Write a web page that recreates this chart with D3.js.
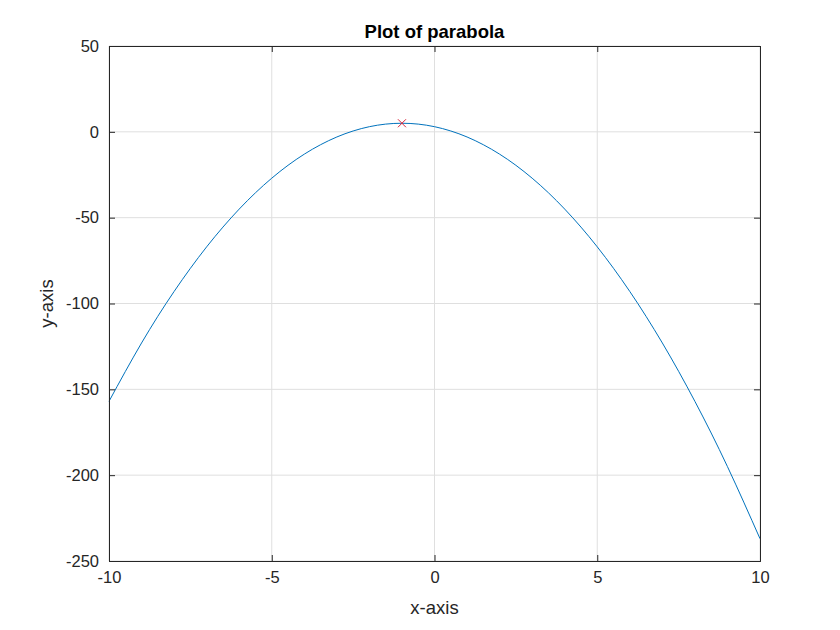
<!DOCTYPE html>
<html><head><meta charset="utf-8">
<script src="https://cdn.jsdelivr.net/npm/d3@7"></script>
<style>body{margin:0;background:#fff}text{font-family:"Liberation Sans",Arial,sans-serif}</style>
</head><body><svg id="c" width="840" height="630"></svg>
<script>
const xValues = [-10,-9,-8,-7,-6,-5,-4,-3,-2,-1,0,1,2,3,4,5,6,7,8,9,10];
const yValues = [-157,-123,-93,-67,-45,-27,-13,-3,3,5,3,-3,-13,-27,-45,-67,-93,-123,-157,-195,-237];
const vertex = [-1, 5];
const xTicks = [-10,-5,0,5,10];
const yTicks = [-250,-200,-150,-100,-50,0,50];

const m = {l:109, r:760, t:46, b:561};
const svg = d3.select('#c');
const x = d3.scaleLinear().domain([-10,10]).range([m.l,m.r]);
const y = d3.scaleLinear().domain([-250,50]).range([m.b,m.t]);
const fmt = d => String(d);

svg.append('rect').attr('width',840).attr('height',630).attr('fill','#fff');
const g = svg.append('g');
// grid
g.selectAll('.gx').data(xTicks).join('line').attr('x1',d=>x(d)).attr('x2',d=>x(d)).attr('y1',m.t).attr('y2',m.b).attr('stroke','#dfdfdf');
g.selectAll('.gy').data(yTicks).join('line').attr('y1',d=>y(d)).attr('y2',d=>y(d)).attr('x1',m.l).attr('x2',m.r).attr('stroke','#dfdfdf');

// curve
const line = d3.line().x((d,i)=>x(xValues[i])).y(d=>y(d)).curve(d3.curveNatural);
g.append('path').datum(yValues).attr('d',line).attr('fill','none').attr('stroke','#0072bd').attr('stroke-width',1);

// vertex marker
const s = 4;
g.append('path').attr('d',`M${x(vertex[0])-s},${y(vertex[1])-s}L${x(vertex[0])+s},${y(vertex[1])+s}M${x(vertex[0])-s},${y(vertex[1])+s}L${x(vertex[0])+s},${y(vertex[1])-s}`)
  .attr('stroke','#d9253a').attr('stroke-width',1);

// axes (ticks inward)
const ax = d3.axisBottom(x).tickValues(xTicks).tickSize(-6).tickPadding(10).tickFormat(fmt);
const ay = d3.axisLeft(y).tickValues(yTicks).tickSize(-6).tickPadding(10).tickFormat(fmt);
const axT = d3.axisTop(x).tickValues(xTicks).tickSize(-6).tickFormat('');
const ayR = d3.axisRight(y).tickValues(yTicks).tickSize(-6).tickFormat('');
[[ax,`translate(0,${m.b})`],[ay,`translate(${m.l},0)`],[axT,`translate(0,${m.t})`],[ayR,`translate(${m.r},0)`]].forEach(([a,t])=>{
  const gg = svg.append('g').attr('transform',t).call(a);
  gg.select('.domain').attr('stroke','#262626');
  gg.selectAll('.tick line').attr('stroke','#262626');
  gg.selectAll('text').attr('font-size',16.5).attr('fill','#262626');
});

svg.append('text').attr('x',(m.l+m.r)/2).attr('y',38).attr('text-anchor','middle').attr('font-weight','bold').attr('font-size',18.5).attr('fill','#000').text('Plot of parabola');
svg.append('text').attr('x',(m.l+m.r)/2).attr('y',614).attr('text-anchor','middle').attr('font-size',18.5).attr('fill','#262626').text('x-axis');
svg.append('text').attr('transform',`translate(53,${(m.t+m.b)/2}) rotate(-90)`).attr('text-anchor','middle').attr('font-size',18.5).attr('fill','#262626').text('y-axis');
</script></body></html>
